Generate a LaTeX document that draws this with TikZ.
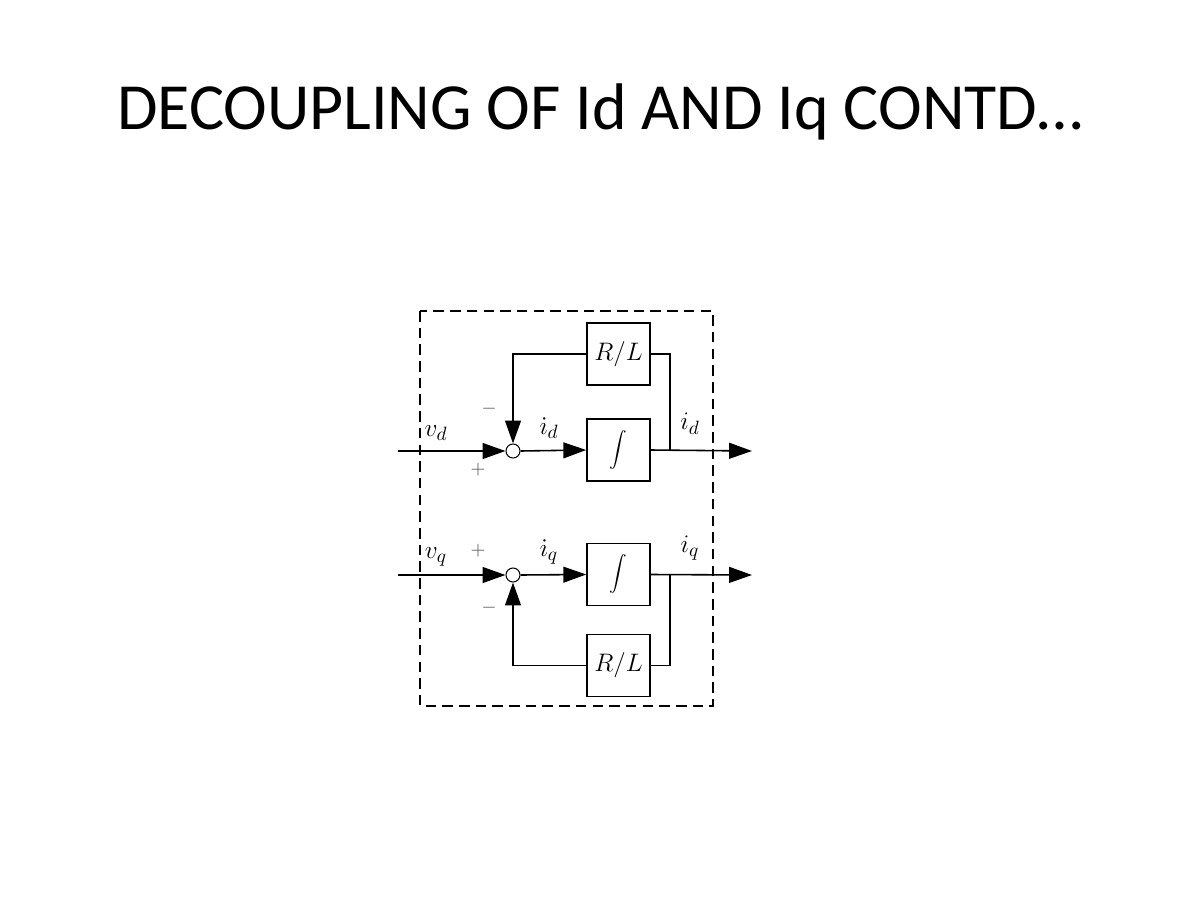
\documentclass[tikz,border=0pt]{standalone}
\usepackage{fontspec}
\newfontfamily\titlefont{Carlito}
\usetikzlibrary{arrows.meta}
\begin{document}
\begin{tikzpicture}[x=0.02cm,y=-0.02cm,
  blk/.style={draw,line width=0.9pt,minimum width=63*0.02cm,minimum height=62*0.02cm,inner sep=0pt,font=\fontsize{14}{14}\selectfont},
  sumc/.style={circle,draw,line width=0.6pt,minimum size=14*0.02cm,inner sep=0pt},
  ln/.style={line width=0.9pt},
  arr/.style={ln,-{Triangle[length=13pt,width=9pt]}},
  lbl/.style={font=\fontsize{15}{15}\selectfont,inner sep=0pt},
  sg/.style={font=\fontsize{11}{11}\selectfont,inner sep=0pt,text=black!70}]
\useasboundingbox (0,0) rectangle (1200,899);
\node[font=\titlefont\fontsize{37.5}{37.5}\selectfont] (title) at (600,112) {DECOUPLING OF Id AND Iq CONTD…};
\draw[dashed,line width=0.8pt,dash pattern=on 6pt off 3.5pt] (420,311) rectangle (713,706);
% top
\node[sumc] (s1) at (513,451) {};
\node[blk] (rl1) at (618.5,354) {$R/L$};
\node[blk] (int1) at (618.5,450) {$\displaystyle\int$};
\coordinate (in1) at (398,451);
\coordinate (out1) at (752,451);
\coordinate (j1) at (670,451);
\draw[arr] (in1) -- (s1.west);
\draw[arr] (s1.east) -- (int1.west);
\draw[arr] (int1.east) -- (out1);
\draw[ln] (j1) |- (rl1.east);
\draw[arr] (rl1.west) -| (s1.north);
\node[lbl] (vd) at (436,433) {$v_d$};
\node[lbl] (did) at (549,428) {$\dot{\imath}_d$};
\node[lbl] (id) at (690,424) {$i_d$};
\node[sg] (p1) at (478,470) {$+$};
\node[sg] (m1) at (489,409) {$-$};
% bottom
\node[sumc] (s2) at (513,575) {};
\node[blk] (int2) at (618.5,574.5) {$\displaystyle\int$};
\node[blk] (rl2) at (618.5,665.5) {$R/L$};
\coordinate (in2) at (398,575);
\coordinate (out2) at (752,575);
\coordinate (j2) at (670,575);
\draw[arr] (in2) -- (s2.west);
\draw[arr] (s2.east) -- (int2.west);
\draw[arr] (int2.east) -- (out2);
\draw[ln] (j2) |- (rl2.east);
\draw[arr] (rl2.west) -| (s2.south);
\node[lbl] (vq) at (436,557) {$v_q$};
\node[lbl] (diq) at (549,552) {$\dot{\imath}_q$};
\node[lbl] (iq) at (690,548) {$i_q$};
\node[sg] (p2) at (478,551) {$+$};
\node[sg] (m2) at (489,608) {$-$};
\end{tikzpicture}
\end{document}
